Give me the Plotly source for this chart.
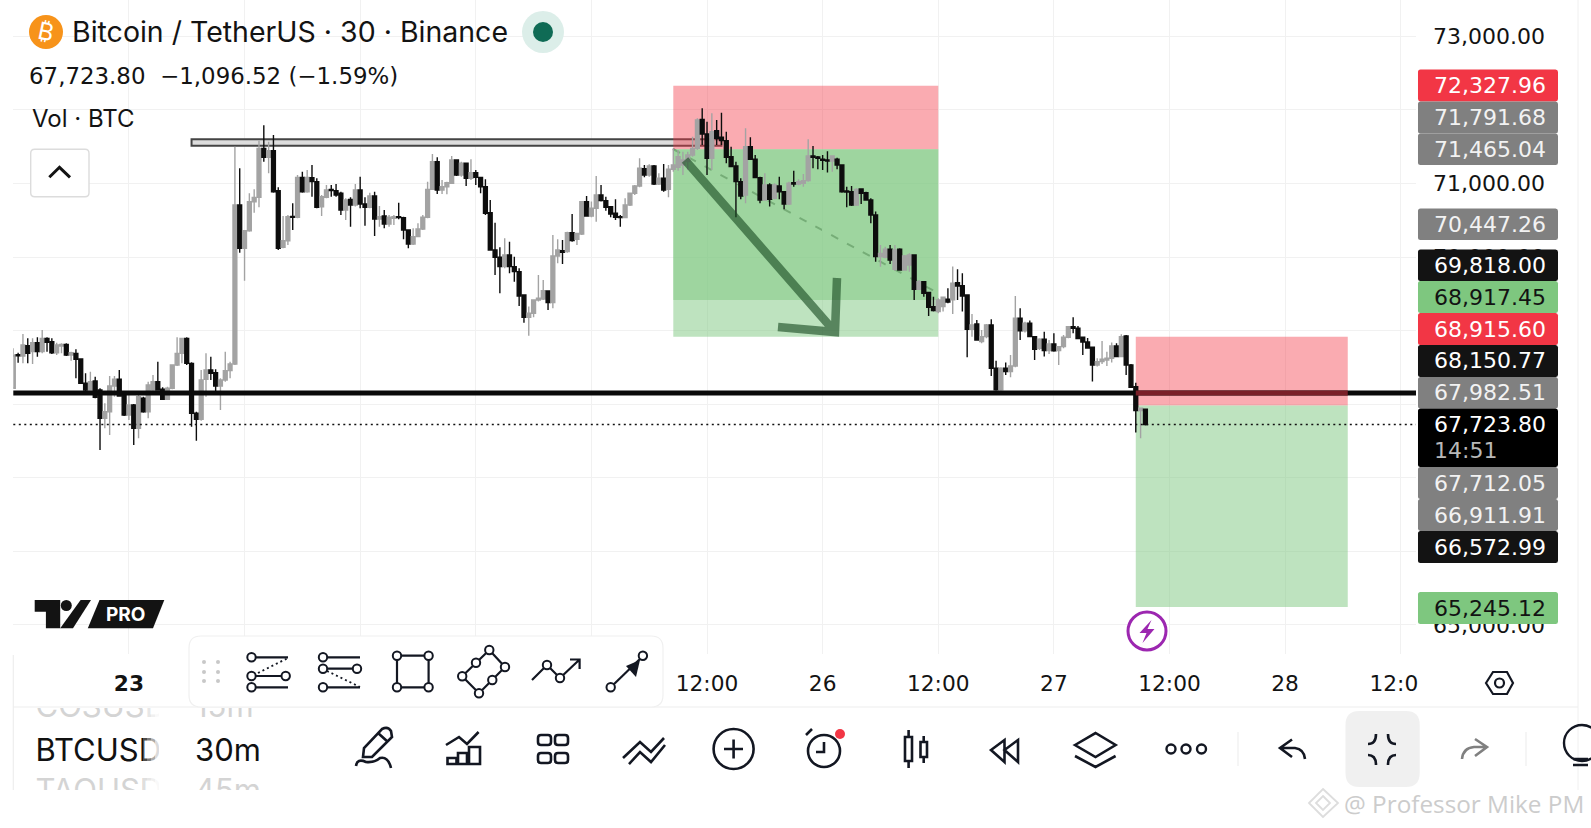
import re

import pandas as pd
import plotly.graph_objects as go

W, H = 1591, 828
BLACK = "#131722"
FONT = "Inter"
NUM_FONT = "DejaVu Sans"

# 30 minute BTCUSDT bars
opens = [
    68216, 68673, 68655, 68795, 68714, 68836, 68714, 68895, 68850, 68700,
    68791, 68813, 68669, 68691, 68614, 68284, 68193, 68315, 68193, 67808,
    67898, 68247, 68338, 68148, 67853, 67989, 67672, 68080, 67898, 68193,
    68306, 68202, 68066, 68216, 68533, 68691, 68895, 68555, 67876, 67794,
    68338, 68465, 68428, 68247, 68329, 68456, 68546, 70707, 70118, 70358,
    70752, 70811, 71477, 71355, 71445, 70902, 70132, 70222, 70553, 70539,
    71083, 70888, 71079, 71024, 70684, 70811, 70920, 70902, 70866, 70639,
    70784, 70707, 70911, 70721, 70676, 70830, 70517, 70558, 70449, 70526,
    70549, 70535, 70367, 70177, 70277, 70381, 70540, 70920, 71296, 70911,
    70956, 71002, 71319, 71115, 71274, 71070, 71147, 71083, 70956, 70603,
    70096, 69996, 69869, 70028, 69869, 69801, 69484, 69181, 69235, 69416,
    69430, 69539, 69380, 70014, 70087, 70073, 70331, 70241, 70313, 70753,
    70558, 70662, 70843, 70766, 70685, 70594, 70549, 70535, 70707, 70866,
    70965, 71201, 71115, 71237, 70993, 71070, 70920, 71192, 71219, 71251,
    71296, 71387, 71477, 71871, 71672, 71341, 71717, 71627, 71582, 71364,
    71237, 71024, 70843, 71500, 71328, 71079, 70775, 70979, 70798, 70965,
    70888, 70721, 71011, 70993, 71002, 71038, 71373, 71360, 71328, 71319,
    71305, 71328, 71251, 70898, 70888, 70707, 70925, 70875, 70775, 70571,
    70005, 69996, 70105, 69833, 70105, 69824, 69892, 70028, 69561, 69665,
    69520, 69326, 69258, 69326, 69426, 69417, 69652, 69611, 69485, 69018,
    69090, 68850, 68918, 69077, 68488, 68194, 68488, 68443, 68520, 69167,
    68999, 69100, 68918, 68760, 68882, 68728, 68819, 68728, 68782, 68909,
    69054, 69032, 68909, 68846, 68773, 68533, 68579, 68601, 68624, 68791,
    68647, 68927, 68533, 68239, 67913, 67931,
]
highs = [
    68759, 68700, 68954, 68895, 68895, 68909, 69008, 68909, 68895, 68836,
    68827, 68827, 68714, 68746, 68623, 68419, 68442, 68374, 68216, 68012,
    68383, 68383, 68465, 68157, 68148, 68003, 68125, 68102, 68306, 68397,
    68578, 68229, 68238, 68542, 68909, 68904, 68909, 68569, 67898, 68465,
    68691, 68646, 68474, 68351, 68714, 68578, 71500, 71205, 70358, 70866,
    70920, 71581, 71792, 71568, 71658, 70947, 70558, 70571, 70730, 71115,
    71160, 71183, 71251, 71069, 70843, 70979, 70979, 70992, 70888, 70798,
    70811, 70993, 71092, 70811, 70875, 70888, 70694, 70639, 70571, 70571,
    70739, 70549, 70377, 70390, 70458, 70571, 71024, 71400, 71355, 71047,
    71024, 71373, 71328, 71296, 71283, 71328, 71183, 71092, 71056, 70775,
    70467, 70132, 70254, 70209, 70005, 69847, 69484, 69326, 69416, 69756,
    69688, 69543, 70299, 70241, 70232, 70345, 70585, 70331, 70753, 70830,
    70753, 71101, 70979, 70820, 70694, 70784, 70571, 70798, 70875, 70979,
    71341, 71251, 71260, 71251, 71138, 71264, 71251, 71477, 71455, 71432,
    71432, 71636, 71885, 72021, 71840, 71953, 71862, 71962, 71704, 71500,
    71296, 71070, 71749, 71627, 71387, 71092, 71138, 71002, 71002, 71092,
    70888, 71024, 71174, 71056, 71129, 71600, 71509, 71373, 71387, 71437,
    71373, 71350, 71260, 70956, 70965, 70934, 70934, 70888, 70798, 70617,
    70164, 70141, 70164, 70164, 70118, 70028, 70050, 70028, 69688, 69665,
    69529, 69461, 69439, 69462, 69575, 69870, 69833, 69779, 69485, 69226,
    69145, 69009, 69090, 69154, 68592, 68502, 68565, 68669, 69471, 69303,
    69122, 69136, 68927, 68896, 68986, 68873, 68964, 68791, 68941, 69063,
    69181, 69063, 68909, 68900, 68773, 68624, 68859, 68714, 68837, 68828,
    68950, 68941, 68547, 68293, 67944, 67935,
]
lows = [
    68216, 68564, 68555, 68555, 68546, 68646, 68691, 68714, 68682, 68669,
    68691, 68655, 68591, 68351, 68274, 68170, 68184, 68080, 67378, 67672,
    67581, 68102, 68102, 67840, 67785, 67445, 67536, 67885, 67808, 68148,
    68184, 68057, 68057, 68202, 68519, 68555, 68533, 67695, 67504, 67776,
    68102, 68329, 68170, 67921, 68306, 68351, 68533, 70059, 69679, 70345,
    70603, 70675, 71296, 71137, 70875, 70095, 70118, 70163, 70367, 70526,
    70875, 70875, 70820, 70662, 70558, 70798, 70820, 70820, 70571, 70503,
    70413, 70685, 70662, 70426, 70662, 70286, 70413, 70390, 70413, 70435,
    70513, 70241, 70118, 70164, 70268, 70367, 70526, 70911, 70857, 70857,
    70852, 70993, 71101, 71092, 70965, 71047, 70979, 70866, 70571, 70087,
    69756, 69507, 69847, 69779, 69665, 69335, 69108, 68931, 69181, 69394,
    69416, 69280, 69303, 69915, 69905, 70059, 70209, 70164, 70299, 70549,
    70540, 70481, 70753, 70630, 70540, 70503, 70413, 70526, 70694, 70843,
    70947, 71083, 71092, 70979, 70979, 70888, 70811, 71160, 71174, 71115,
    71183, 71364, 71455, 71523, 71115, 71183, 71523, 71523, 71274, 71219,
    70540, 70784, 70730, 71319, 71070, 70730, 70766, 70685, 70784, 70784,
    70648, 70707, 70956, 70974, 70956, 71024, 71206, 71192, 71183, 71147,
    71160, 71192, 70875, 70676, 70694, 70694, 70721, 70766, 70458, 69937,
    69869, 69982, 69905, 69815, 69815, 69815, 69801, 69416, 69552, 69461,
    69199, 69258, 69235, 69258, 69371, 69226, 69417, 69258, 68637, 68918,
    68864, 68828, 68896, 68384, 68184, 68184, 68397, 68366, 68502, 68873,
    68973, 68909, 68601, 68737, 68647, 68683, 68714, 68533, 68760, 68896,
    68964, 68882, 68669, 68760, 68307, 68511, 68547, 68520, 68565, 68637,
    68637, 68397, 68225, 67614, 67537, 67712,
]
closes = [
    68669, 68659, 68804, 68691, 68836, 68714, 68895, 68841, 68700, 68804,
    68813, 68669, 68700, 68610, 68284, 68193, 68306, 68093, 67808, 67898,
    68247, 68338, 68111, 67853, 67989, 67672, 68102, 67898, 68261, 68306,
    68193, 68066, 68216, 68533, 68691, 68895, 68555, 67876, 67794, 68329,
    68465, 68419, 68247, 68329, 68456, 68546, 70707, 70118, 70358, 70752,
    70811, 71477, 71355, 71445, 70888, 70118, 70222, 70549, 70539, 71083,
    70888, 71083, 71024, 70675, 70820, 70911, 70902, 70843, 70639, 70775,
    70707, 70911, 70721, 70676, 70830, 70517, 70549, 70449, 70540, 70549,
    70535, 70367, 70177, 70277, 70381, 70540, 70920, 71296, 70911, 70956,
    71011, 71319, 71115, 71274, 71070, 71147, 71083, 70956, 70594, 70096,
    69996, 69869, 70028, 69869, 69801, 69471, 69181, 69235, 69416, 69439,
    69543, 69380, 70014, 70096, 70064, 70331, 70223, 70322, 70753, 70558,
    70662, 70843, 70766, 70676, 70585, 70540, 70535, 70707, 70866, 70965,
    71206, 71115, 71237, 70993, 71070, 70911, 71192, 71251, 71364, 71319,
    71387, 71477, 71862, 71672, 71341, 71704, 71613, 71582, 71355, 71228,
    71024, 70830, 71500, 71328, 71079, 70775, 70979, 70784, 70979, 70888,
    70721, 71002, 70993, 71024, 71038, 71373, 71355, 71341, 71314, 71305,
    71373, 71251, 70888, 70884, 70707, 70920, 70866, 70775, 70571, 70005,
    70050, 70105, 69960, 70096, 69824, 70014, 70028, 69561, 69665, 69507,
    69317, 69271, 69417, 69453, 69389, 69643, 69607, 69471, 69018, 69077,
    68873, 68918, 69077, 68488, 68194, 68488, 68443, 68520, 69167, 68999,
    69100, 68918, 68746, 68882, 68728, 68819, 68724, 68782, 68909, 69054,
    69032, 68891, 68846, 68764, 68533, 68579, 68610, 68624, 68791, 68647,
    68918, 68533, 68230, 67913, 67944, 67723.80,
]

grid_prices = [73000, 72000, 71000, 70000, 69000, 68000, 67000, 66000, 65000]
price_ticks = ["73,000.00", "", "71,000.00", "70,000.00", "", "", "", "", "65,000.00"]
time_ticks = ["12:00", "<b>23</b>", "12:00", "24", "12:00", "25", "12:00", "26", "12:00", "27", "12:00", "28", "12:00"]

label_values = [72327.96, 71791.68, 71465.04, 70447.26, 69818.00, 68917.45, 68915.60, 68150.77, 67982.51, 67723.80, 67712.05, 66911.91, 66572.99, 65245.12]
label_colors = ["#f23645", "#808080", "#808080", "#808080", "#131313", "#7ec77f", "#f23645", "#131313", "#808080", "#000000", "#808080", "#808080", "#131313", "#7ec77f"]
label_text = ["white", "#f2f2f2", "#f2f2f2", "#f2f2f2", "white", "#131313", "white", "white", "#f2f2f2", "white", "#f2f2f2", "#f2f2f2", "white", "#131313"]
label_tops = [69.5, 101.5, 133.5, 208.5, 249.5, 281, 313, 345, 377, 408.5, 467, 499, 531, 592]
label_bottoms = [101.5, 133.5, 165, 240, 281, 313, 345, 377, 408.5, 467, 499, 531, 563, 624]

line_level = 68150.77
last_close = 67723.80
channel_low, channel_high = 71513, 71600
short1_stop, short1_entry, short1_mid, short1_target = 72327.96, 71465.04, 69416, 68917.45
short2_stop, short2_entry, short2_target = 68915.60, 67982.51, 65245.12

times = pd.date_range("2024-10-22 12:00", periods=len(closes), freq="30min")
grid_times = pd.date_range("2024-10-22 12:00", periods=len(time_ticks), freq="12h")


def fx(x):
    return x / W


def fy(y):
    return 1 - y / H


def path_str(d):
    # pixel svg path -> paper coords
    nums = iter(re.findall(r"[A-Za-z]|-?\d+\.?\d*", d))
    out = []
    for tok in nums:
        if tok.isalpha():
            out.append(tok)
        else:
            out.append(f"{fx(float(tok)):.5f},{fy(float(next(nums))):.5f}")
    return " ".join(out)


shapes = []


def stroke(d, color=BLACK, width=2.6, fill=None, dash=None):
    shapes.append(dict(type="path", xref="paper", yref="paper", path=path_str(d), layer="above",
                       line=dict(color=color, width=width, dash=dash), fillcolor=fill))


def fill(d, color):
    shapes.append(dict(type="path", xref="paper", yref="paper", path=path_str(d), layer="above",
                       line=dict(width=0), fillcolor=color))


def circle(cx, cy, r, color=BLACK, width=2.2, fc=None):
    shapes.append(dict(type="circle", xref="paper", yref="paper", layer="above",
                       x0=fx(cx - r), x1=fx(cx + r), y0=fy(cy - r), y1=fy(cy + r),
                       line=dict(color=color, width=width), fillcolor=fc))


def rrect(x0, y0, x1, y1, r):
    return (f"M {x0 + r} {y0} L {x1 - r} {y0} Q {x1} {y0} {x1} {y0 + r} L {x1} {y1 - r} Q {x1} {y1} {x1 - r} {y1} "
            f"L {x0 + r} {y1} Q {x0} {y1} {x0} {y1 - r} L {x0} {y0 + r} Q {x0} {y0} {x0 + r} {y0} Z")


def box(t0, t1, p0, p1, color):
    shapes.append(dict(type="rect", xref="x", yref="y", x0=t0, x1=t1, y0=p0, y1=p1, layer="between",
                       line=dict(width=0), fillcolor=color))


RED_A = "rgba(242,54,69,0.42)"
GREEN_A = "rgba(126,199,127,0.5)"

# channel, then both trade boxes
shapes.append(dict(type="rect", xref="x", yref="y", x0=pd.Timestamp("2024-10-23 06:30"), x1=pd.Timestamp("2024-10-25 13:30"),
                   y0=channel_low, y1=channel_high, layer="between", line=dict(color="#444444", width=2), fillcolor="#dddddd"))
t1a, t1b = pd.Timestamp("2024-10-25 08:30"), pd.Timestamp("2024-10-26 12:00")
t2a, t2b = pd.Timestamp("2024-10-27 08:30"), pd.Timestamp("2024-10-28 06:30")
box(t1a, t1b, short1_entry, short1_stop, RED_A)
box(t1a, t1b, short1_target, short1_entry, GREEN_A)
box(t1a, t1b, short1_mid, short1_entry, GREEN_A)
box(t2a, t2b, short2_entry, short2_stop, RED_A)
box(t2a, t2b, short2_target, short2_entry, GREEN_A)

# horizontal levels
shapes.append(dict(type="line", xref="paper", yref="y", x0=fx(13.3), x1=fx(1416), y0=line_level, y1=line_level,
                   layer="above", line=dict(color="#0a0a0a", width=5)))
shapes.append(dict(type="line", xref="x", yref="y", x0=t2a, x1=t2b, y0=line_level, y1=line_level,
                   layer="above", line=dict(color="#7a1f28", width=5)))
shapes.append(dict(type="line", xref="paper", yref="y", x0=fx(13.3), x1=fx(1416), y0=last_close, y1=last_close,
                   layer="above", line=dict(color="#111111", width=1.6, dash="2px,3.5px")))

# dashed path and the big arrow
shapes.append(dict(type="line", xref="paper", yref="paper", x0=fx(673), y0=fy(149), x1=fx(938), y1=fy(293), layer="between",
                   line=dict(color="#5f5f5f", width=2, dash="8px,10px")))
shapes.append(dict(type="path", xref="paper", yref="paper", layer="above", opacity=0.63,
                   path=path_str("M 685 160 L 835 332 M 778 327 L 835 332 L 837 278"),
                   line=dict(color="#1d4f26", width=8.5)))

# masks for cut off tick labels
fill("M 0 655 L 13.3 655 L 13.3 706 L 0 706 Z", "white")
fill("M 1419 655 L 1480 655 L 1480 706 L 1419 706 Z", "white")
# page rules
stroke("M 13.3 655 L 13.3 790", "#eeeeee", 1.2)
stroke("M 13.3 707 L 1578 707", "#eeeeee", 1.2)
stroke("M 1578 0 L 1578 790", "#f0f0f0", 1)

# price labels over the axis
for top, bottom, color in zip(label_tops, label_bottoms, label_colors):
    fill(rrect(1418, top, 1558, bottom, 2.5), color)

# header button
stroke(rrect(30.7, 149.3, 89, 196.7, 4), "#dcdcdc", 1.4, "white")
stroke("M 49.3 177.3 L 59.5 167.3 L 70 177.3", "#131313", 3)

# orange coin and status dot
circle(46, 32, 17, "#f7931a", 0, "#f7931a")
circle(543, 32, 21, "#dceee9", 0, "#dceee9")
circle(543, 32, 10, "#0f6b55", 0, "#0f6b55")

# tv logo
fill("M 34.7 600 L 60.2 600 L 60.2 628.3 L 45.9 628.3 L 45.9 611.7 L 34.7 611.7 Z", "#131313")
circle(66.3, 605.5, 5.5, "#131313", 0, "#131313")
fill("M 80.6 600 L 91 600 L 73 628.3 L 60.2 628.3 Z", "#131313")
fill("M 99.5 600 L 164.3 600 L 153 628.3 L 87.8 628.3 Z", "#131313")

# lightning marker
circle(1147, 631, 19, "#9c27b0", 3, "white")
fill("M 1151.5 620 L 1139.5 633 L 1146.5 633 L 1142.5 643 L 1154.5 629 L 1147.5 629 Z", "#9c27b0")

# floating tool bar
stroke(rrect(189, 636, 663, 707, 12), "#f0f0f0", 1.2, "white")
for dy in (662, 672, 681):
    for dx in (204, 218):
        circle(dx, dy, 2, "#c8c8c8", 0, "#c8c8c8")

stroke("M 256 657.3 L 288 657.3 M 256 676 L 281 676 M 256 687.3 L 288 687.3", BLACK, 2.2)
stroke("M 258 673 L 288 658", BLACK, 1.8, dash="2px,3px")
for cx, cy in ((251.5, 657.3), (251.5, 676), (251.5, 687.3), (285.7, 676)):
    circle(cx, cy, 4.2, BLACK, 2, "white")

stroke("M 328 657.3 L 360 657.3 M 328 668.7 L 353 668.7 M 328 687.3 L 360 687.3", BLACK, 2.2)
stroke("M 327 671 L 360 687", BLACK, 1.8, dash="2px,3px")
for cx, cy in ((323, 657.3), (323, 668.7), (323, 687.3), (357, 668.7)):
    circle(cx, cy, 4.2, BLACK, 2, "white")

stroke("M 397 655.7 L 428.6 655.7 L 428.6 687.3 L 397 687.3 Z", BLACK, 2.2)
for cx, cy in ((397, 655.7), (428.6, 655.7), (397, 687.3), (428.6, 687.3)):
    circle(cx, cy, 4.2, BLACK, 2, "white")

stroke("M 489.3 650 L 505 667 L 479 693.3 L 462.2 676.3 Z", BLACK, 2.2)
for cx, cy in ((489.3, 650), (476, 662.7), (462.2, 676.3), (479, 693.3), (492.3, 680), (505, 667)):
    circle(cx, cy, 4.2, BLACK, 2, "white")

stroke("M 532 680 L 547 665 L 560 678 L 579.6 659.5 M 570 659.5 L 579.6 659.5 L 579.6 669", BLACK, 2.2)
for cx, cy in ((547, 665), (560, 678)):
    circle(cx, cy, 4.2, BLACK, 2, "white")

stroke("M 611 687 L 643 656", BLACK, 2.2)
fill("M 640 660 L 626 666 L 636 677 Z", BLACK)
for cx, cy in ((610.7, 687.3), (642.9, 655.7)):
    circle(cx, cy, 4.2, BLACK, 2, "white")

# bottom tool strip: pencil, indicators, grid, swoosh, plus, alarm, candles, rewind, layers, dots
stroke("M 363 757 L 364 748 L 382 729 Q 388 726 391 731 L 392 737 L 372 757 Z M 378 733 L 388 742", BLACK)
stroke("M 356 766 Q 357 758 366 762 Q 374 763 380 758 Q 388 756 391 768", BLACK)
stroke("M 447.5 758 L 456.5 758 L 456.5 764 L 447.5 764 Z M 458 753 L 467 753 L 467 764 L 458 764 Z M 469 747 L 480 747 L 480 764 L 469 764 Z", BLACK)
stroke("M 446 745 L 459 737 L 467 744 L 478.6 732", BLACK)
for gx, gy in ((538, 735), (555, 735), (538, 753), (555, 753)):
    stroke(rrect(gx, gy, gx + 13, gy + 10, 3), BLACK)
stroke("M 623 758 L 640 742 L 651 752 L 664 738 M 629 764 L 640 752 L 651 762 L 665 745", BLACK)
circle(733.6, 749, 20, BLACK, 2.6)
stroke("M 724 749 L 743 749 M 733.6 739.5 L 733.6 758.5", BLACK)
circle(824, 751, 16, BLACK, 2.6)
stroke("M 824 742 L 824 752 L 816 752 M 806 735 L 812 729", BLACK)
circle(840, 734, 5, "#f23645", 0, "#f23645")
stroke("M 905 737 L 912 737 L 912 761 L 905 761 Z M 908.6 730 L 908.6 737 M 908.6 761 L 908.6 768", BLACK)
stroke("M 920.5 742 L 927 742 L 927 757 L 920.5 757 Z M 923.7 736 L 923.7 742 M 923.7 757 L 923.7 763", BLACK)
stroke("M 1004.5 740 L 991 750 L 1004.5 762 Z M 1018 740 L 1004.5 750 L 1018 762 Z", BLACK)
stroke("M 1075 745 L 1095.5 733 L 1115.6 745 L 1095.5 757 Z M 1075 756 L 1095.5 767 L 1115.6 756", BLACK)
for dx in (1171, 1186, 1201.5):
    circle(dx, 749, 4.5, BLACK, 2.4)
stroke("M 1238 732 L 1238 766 M 1526 732 L 1526 766", "#eeeeee", 1.2)
stroke("M 1292 739.5 L 1280 748 L 1292 757 M 1280 748 L 1295 748 Q 1304 749 1305 759", BLACK)
fill(rrect(1345.5, 711, 1419.7, 787, 14), "#f0f0f0")
stroke("M 1368 744 Q 1376 744 1376 734 M 1396 744 Q 1388 744 1388 734 M 1368 755 Q 1376 755 1376 765 M 1396 755 Q 1388 755 1388 765", BLACK)
stroke("M 1475 739 L 1487 747 L 1475 756 M 1487 747 L 1474 747 Q 1463 748 1462 759", "#808080")
circle(1582, 743, 18, BLACK, 2.4)
stroke("M 1573 765 L 1588 765 M 1573 759 L 1588 759", BLACK, 2.4)
stroke("M 1486 683 L 1493 672 L 1507 672 L 1513 683 L 1507 694 L 1493 694 Z", BLACK, 2.2)
circle(1499.5, 683, 4.5, BLACK, 2.2)

# fade on the watchlist symbol
for i, a in enumerate((0.25, 0.45, 0.65, 0.85, 1)):
    fill(f"M {143 + i * 4} 708 L {147 + i * 4} 708 L {147 + i * 4} 790 L {143 + i * 4} 790 Z", f"rgba(255,255,255,{a})")
fill("M 163 708 L 186 708 L 186 790 L 163 790 Z", "white")

# binance mark under the watermark
stroke("M 1323 789 L 1338 803 L 1323 817 L 1309 803 Z M 1323 796 L 1330 803 L 1323 810 L 1316 803 Z", "#dddddd", 1.8)

fig = go.Figure()
fig.add_trace(
    go.Candlestick(
        x=times,
        open=opens,
        high=highs,
        low=lows,
        close=closes,
        increasing=dict(line=dict(color="#a3a3a3", width=1.4), fillcolor="#a3a3a3"),
        decreasing=dict(line=dict(color="#0d0d0d", width=1.4), fillcolor="#0d0d0d"),
        whiskerwidth=0,
        showlegend=False,
        hoverinfo="skip",
    )
)

# watchlist rows, clipped by their own small axes
fig.add_trace(
    go.Scatter(
        x=[35.5, 195, 35.5, 195, 35.5, 195],
        y=[709, 709, 753, 753, 793, 793],
        mode="text",
        text=["COSUSD", "15m", "BTCUSD", "30m", "TAOUSD", "45m"],
        textposition="middle right",
        textfont=dict(
            family=FONT,
            size=[31, 31, 31, 31, 31, 31],
            color=["#d4d4d4", "#d4d4d4", "#111111", "#111111", "#d4d4d4", "#d4d4d4"],
        ),
        xaxis="x2",
        yaxis="y2",
        showlegend=False,
        hoverinfo="skip",
        cliponaxis=True,
    )
)


def note(x, y, text, size=22, color="#131313", anchor="left", angle=0, family=FONT):
    return dict(xref="paper", yref="paper", x=fx(x), y=fy(y), text=text, showarrow=False, xanchor=anchor,
                yanchor="middle", textangle=angle, font=dict(family=family, size=size, color=color))


annotations = [
    note(69.5, 32, "Bitcoin / TetherUS · 30 · Binance", 28.5),
    note(27, 76, "67,723.80  −1,096.52 (−1.59%)", 22.9, family=NUM_FONT),
    note(30, 119, "Vol · BTC", 24),
    note(46, 32, "₿", 24, "white", "center", 12),
    note(125.6, 614, "<b>PRO</b>", 19, "white", "center"),
    note(1342, 803, "@ Professor Mike PM", 24.3, "#cccccc", family="Open Sans"),
]
for value, top, bottom, color in zip(label_values, label_tops, label_bottoms, label_text):
    mid = (top + bottom) / 2
    if value == last_close:
        annotations.append(note(1432, 424, f"{value:,.2f}", 22, color, family=NUM_FONT))
        annotations.append(note(1432, 450, "14:51", 22, "#b8b8b8", family=NUM_FONT))
    else:
        annotations.append(note(1432, mid, f"{value:,.2f}", 22, color, family=NUM_FONT))

fig.update_layout(
    width=W,
    height=H,
    margin=dict(l=0, r=0, t=0, b=0, autoexpand=False),
    paper_bgcolor="white",
    plot_bgcolor="white",
    font=dict(family=FONT, color="#131313"),
    shapes=shapes,
    annotations=annotations,
    boxgap=0.2,
    boxgroupgap=0,
    xaxis=dict(
        domain=[fx(13.3), fx(1416)],
        range=[pd.Timestamp("2024-10-22 12:00"), pd.Timestamp("2024-10-28 13:35")],
        rangeslider=dict(visible=False),
        tickmode="array",
        tickvals=grid_times,
        ticktext=time_ticks,
        tickfont=dict(family=NUM_FONT, size=21.7, color="#131313"),
        ticklabelstandoff=14,
        showgrid=True,
        gridcolor="#f1f1f1",
        gridwidth=1.3,
        zeroline=False,
        showline=False,
        anchor="y",
    ),
    yaxis=dict(
        domain=[fy(654), 1],
        range=[64605, 73493],
        side="right",
        tickmode="array",
        tickvals=grid_prices,
        ticktext=price_ticks,
        tickfont=dict(family=NUM_FONT, size=22, color="#131313"),
        ticklabelstandoff=16,
        showgrid=True,
        gridcolor="#f1f1f1",
        gridwidth=1.3,
        zeroline=False,
        showline=False,
        anchor="x",
    ),
    xaxis2=dict(domain=[fx(13.3), fx(300)], range=[13.3, 300], visible=False, anchor="y2"),
    yaxis2=dict(domain=[fy(790), fy(708)], range=[790, 708], visible=False, anchor="x2"),
)

# the page's default body margin would push the figure off by 8px
fig.write_html(
    "out.html",
    config={"displayModeBar": False, "responsive": False},
    post_script="document.body.style.margin='0px';document.body.style.overflow='hidden';",
)
